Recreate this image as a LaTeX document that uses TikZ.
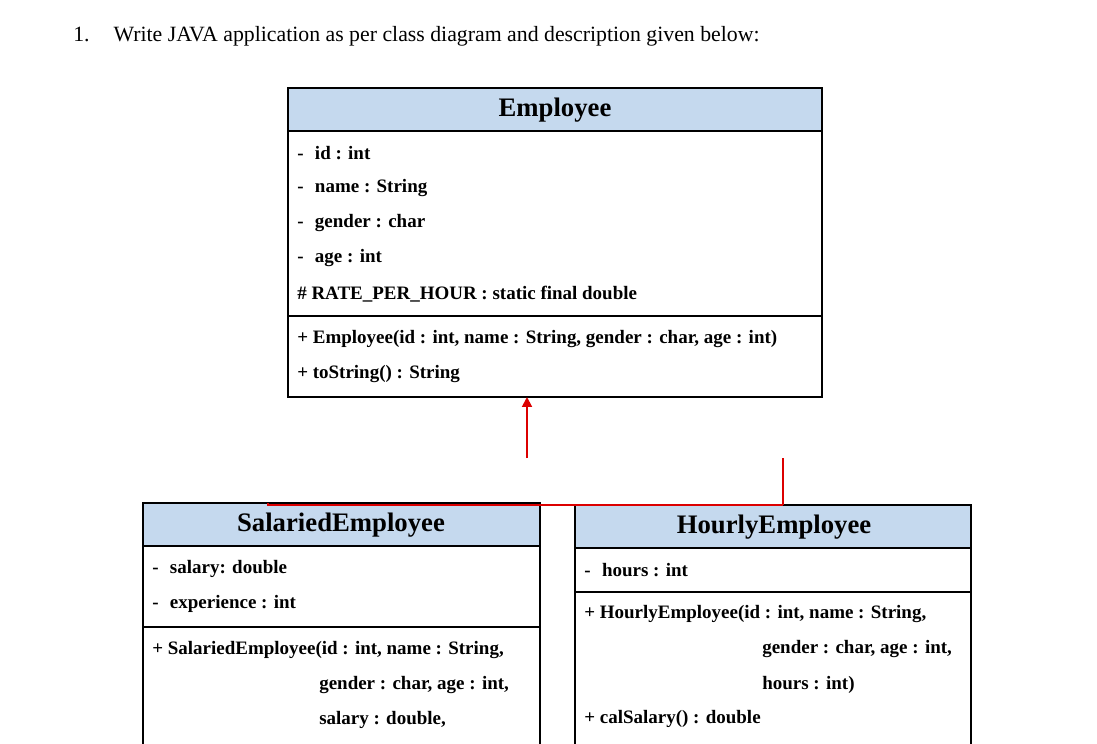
\documentclass[tikz,border=0pt]{standalone}
\usepackage{fontspec}
\setmainfont{Liberation Serif}
\usetikzlibrary{arrows.meta}
\definecolor{hdr}{RGB}{197,217,238}
\definecolor{lnk}{RGB}{220,0,0}
\begin{document}
\begin{tikzpicture}[x=0.025cm,y=-0.025cm,
  t/.style={anchor=west,inner sep=0pt,font=\fontsize{13.5}{15}\selectfont\bfseries},
  h/.style={inner sep=0pt,font=\fontsize{19}{21}\selectfont\bfseries},
  box/.style={draw=black,line width=0.8pt},
  lk/.style={draw=lnk,line width=1.4pt}]
\useasboundingbox (0,0) rectangle (1097,743);
\clip (0,0) rectangle (1097,743);
\node[anchor=west,inner sep=0pt,font=\fontsize{15.5}{17}\selectfont] (title) at (73,36) {1.\hspace{1.1em}Write JAVA application as per class diagram and description given below:};
% Employee
\fill[hdr] (288,88) rectangle (822,131);
\draw[box] (288,88) rectangle (822,397);
\draw[box] (288,131) -- (822,131) (288,316) -- (822,316);
\node[h] (emp) at (555,110) {Employee};
\node[t] (e1) at (297,153) {-\hspace{0.6em}id : int};
\node[t] (e2) at (297,188) {-\hspace{0.6em}name : String};
\node[t] (e3) at (297,223) {-\hspace{0.6em}gender : char};
\node[t] (e4) at (297,258) {-\hspace{0.6em}age : int};
\node[t] (e5) at (297,294) {\# RATE\_PER\_HOUR : static final double};
\node[t] (e6) at (297,339) {+ Employee(id : int, name : String, gender : char, age : int)};
\node[t] (e7) at (297,374) {+ toString() : String};
\coordinate (top) at (527,397);
% Salaried
\fill[hdr] (143,503) rectangle (540,546);
\draw[box] (143,750) -- (143,503) -- (540,503) -- (540,750);
\draw[box] (143,546) -- (540,546) (143,627) -- (540,627);
\node[h] (sal) at (341,525) {SalariedEmployee};
\node[t] (s1) at (152,569) {-\hspace{0.6em}salary: double};
\node[t] (s2) at (152,604) {-\hspace{0.6em}experience : int};
\node[t] (s3) at (152,650) {+ SalariedEmployee(id : int, name : String,};
\node[t] (s4) at (319,685) {gender : char, age : int,};
\node[t] (s5) at (319,720) {salary : double,};
% Hourly
\fill[hdr] (575,505) rectangle (971,548);
\draw[box] (575,750) -- (575,505) -- (971,505) -- (971,750);
\draw[box] (575,548) -- (971,548) (575,592) -- (971,592);
\node[h] (hr) at (774,527) {HourlyEmployee};
\node[t] (h1) at (584,570) {-\hspace{0.6em}hours : int};
\node[t] (h2) at (584,614) {+ HourlyEmployee(id : int, name : String,};
\node[t] (h3) at (762,649) {gender : char, age : int,};
\node[t] (h4) at (762,685) {hours : int)};
\node[t] (h5) at (584,719) {+ calSalary() : double};
% connectors
\coordinate (j) at (527,458);
\coordinate (sl) at (268,503);
\coordinate (hl) at (783,505);
\draw[lk] (sl) |- (hl);
\draw[lk] (hl) -- (783,458);
\draw[lk,-{Triangle[length=7pt,width=7pt]}] (j) -- (top);
\end{tikzpicture}
\end{document}
